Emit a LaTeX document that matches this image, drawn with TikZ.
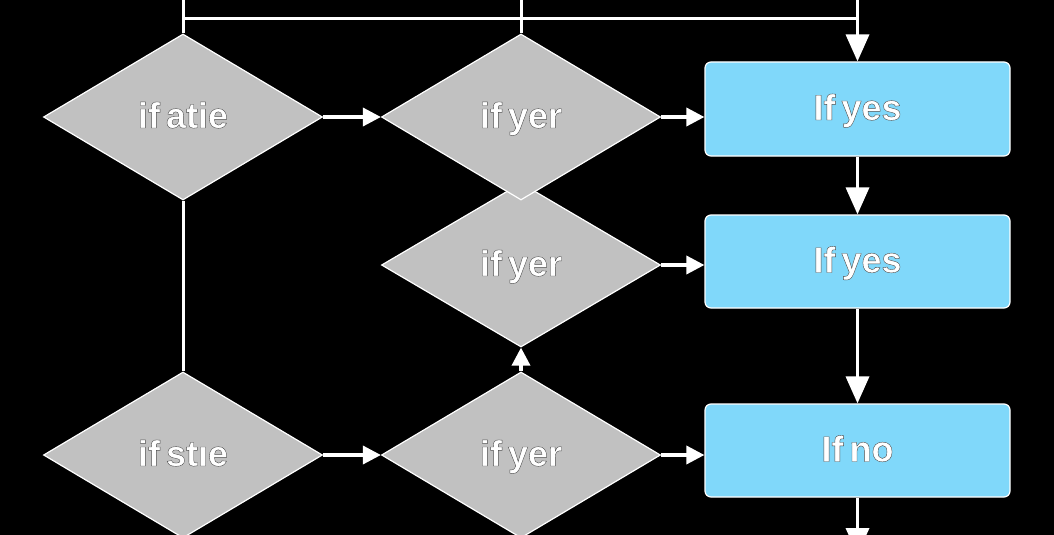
\documentclass[tikz,border=0pt]{standalone}
\usepackage{fontspec}
\setmainfont{Liberation Sans}
\newfontfamily\lblfont[FakeBold=1.1]{Liberation Sans Bold}
\usetikzlibrary{shapes.geometric,arrows.meta}
\definecolor{dgray}{RGB}{193,193,193}
\definecolor{boxc}{RGB}{128,216,250}
\newcommand\lbl[1]{{\lblfont\fontsize{36pt}{38pt}\selectfont\spaceskip=6pt plus 1pt\special{pdf:bcolor [1] [0.3]}#1\special{pdf:ecolor}}}
\begin{document}
\begin{tikzpicture}[x=1pt,y=-1pt,
  txt/.style={text=white, text height=22pt, text depth=0pt},
  dec/.style={diamond, draw=white, line width=1.2pt, fill=dgray, minimum width=279pt, minimum height=166pt, inner sep=0pt, txt},
  res/.style={rectangle, rounded corners=6pt, draw=white, line width=1.2pt, fill=boxc, minimum width=305pt, minimum height=94pt, inner sep=0pt, txt},
  wline/.style={draw=white, line width=3pt},
  sarrow/.style={draw=white, line width=3.5pt, -{Triangle[width=18pt,length=18pt]}},
  barrow/.style={draw=white, line width=3.5pt, -{Triangle[width=23pt,length=27pt]}}]
\fill[black] (0,0) rectangle (1054,535);
\useasboundingbox (0,0) rectangle (1054,535);
% diamonds (d3 first so d2 lies over it)
\node[dec, minimum height=164pt] (d3) at (521,265) {\lbl{if yer}};
\node[dec] (d1) at (183,117) {\lbl{if atie}};
\node[dec] (d2) at (521,117) {\lbl{if yer}};
\node[dec] (d4) at (183,455) {\lbl{if stıe}};
\node[dec] (d5) at (521,455) {\lbl{if yer}};
% result boxes
\node[res] (b1) at (857.5,109) {\lbl{If yes}};
\node[res, minimum height=93pt] (b2) at (857.5,261.5) {\lbl{If yes}};
\node[res, minimum height=93pt] (b3) at (857.5,450.5) {\lbl{If no}};
% free ends
\coordinate (t1) at (183,-5);
\coordinate (t2) at (521,-5);
\coordinate (t3) at (857.5,-5);
\coordinate (h1) at (183,19);
\coordinate (h3) at (857.5,19);
\coordinate (bend) at (857.5,555);
% connectors
\draw[wline] (t1) -- (d1.north);
\draw[wline] (t2) -- (d2.north);
\draw[wline] (h1) -- (h3);
\draw[barrow] (t3) -- (b1.north);
\draw[wline] (d1.south) -- (d4.north);
\draw[sarrow] (d1.east) -- (d2.west);
\draw[sarrow] (d2.east) -- (d2.east -| b1.west);
\draw[sarrow] (d3.east) -- (d3.east -| b2.west);
\draw[sarrow] (d4.east) -- (d5.west);
\draw[sarrow] (d5.east) -- (d5.east -| b3.west);
\draw[sarrow] (d5.north) -- (d3.south);
\draw[barrow] (b1.south) -- (b2.north);
\draw[barrow] (b2.south) -- (b3.north);
\draw[barrow] (b3.south) -- (bend);
\end{tikzpicture}
\end{document}
